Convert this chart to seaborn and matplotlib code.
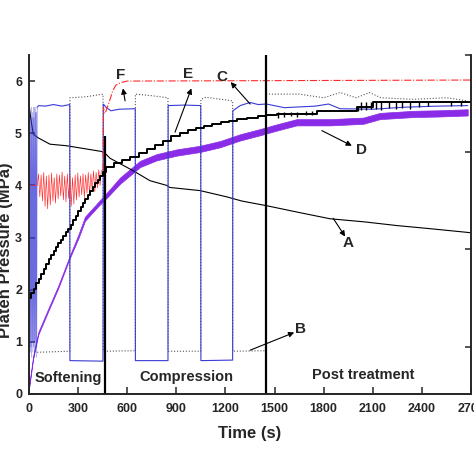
import matplotlib
matplotlib.use("Agg")
import matplotlib.pyplot as plt
import seaborn as sns

# ---- values (time in s, pressure in MPa) ----

# A: thin black, slowly decreasing
a_t = [0, 10, 26, 57, 128, 230, 444, 470, 495, 637, 739, 841, 860, 1045, 1208, 1300,
       1452, 1650, 1839, 2050, 2246, 2450, 2674, 2700]
a_v = [5.56, 5.3, 4.98, 4.91, 4.79, 4.76, 4.65, 4.6, 4.52, 4.28, 4.09, 4.0, 3.96, 3.9,
       3.78, 3.70, 3.61, 3.48, 3.36, 3.3, 3.23, 3.17, 3.10, 3.09]

# B: grey dotted square wave
b_t = [50, 249, 250, 350, 452, 454, 649, 650, 750, 849, 850, 1049, 1050, 1080, 1244,
       1245, 1449, 1450, 1650, 1800, 1900, 2000, 2080, 2150, 2350, 2550, 2680]
b_v = [0.80, 0.82, 5.68, 5.70, 5.75, 0.82, 0.83, 5.75, 5.72, 5.68, 0.82, 0.82, 5.65,
       5.69, 5.62, 0.82, 0.83, 5.75, 5.75, 5.68, 5.78, 5.68, 5.78, 5.68, 5.65, 5.68, 5.62]

# C: blue, fast oscillation then square wave
c_osc_t = [0, 2, 4, 6, 8, 10, 12, 14, 16, 18, 20, 22, 24, 26, 28, 30, 32, 34, 36, 38,
           40, 42, 44, 46, 48, 50]
c_osc_v = [0.0, 5.2, 0.7, 5.4, 0.8, 5.3, 0.9, 5.5, 0.7, 5.3, 1.0, 5.4, 0.8, 5.5, 0.9,
           5.3, 0.7, 5.5, 1.0, 5.4, 0.8, 5.5, 0.7, 5.4, 0.9, 5.5]
c_t = [50, 60, 100, 150, 200, 249, 250, 452, 454, 470, 500, 550, 649, 650, 849, 850,
       950, 1049, 1050, 1244, 1245, 1290, 1350, 1400, 1450, 1560, 1750, 1830, 1900,
       2100, 2300, 2500, 2680]
c_v = [5.5, 5.53, 5.52, 5.55, 5.52, 5.55, 0.64, 0.63, 5.56, 5.5, 5.43, 5.46, 5.47,
       0.64, 0.64, 5.53, 5.54, 5.53, 0.64, 0.65, 5.43, 5.53, 5.59, 5.55, 5.56, 5.49,
       5.52, 5.56, 5.47, 5.46, 5.5, 5.52, 5.53]

# D: purple, noisy band (lower / upper envelope)
d_t = [0, 26, 57, 118, 179, 250, 301, 342, 423, 484, 556, 678, 780, 902, 1045, 1167,
       1289, 1411, 1513, 1635, 1839, 2042, 2144, 2348, 2500, 2680]
d_lo = [0.10, 0.69, 1.14, 1.59, 2.03, 2.61, 2.98, 3.32, 3.60, 3.79, 4.03, 4.35, 4.48,
        4.57, 4.64, 4.73, 4.86, 4.96, 5.05, 5.15, 5.15, 5.18, 5.27, 5.31, 5.32, 5.34]
d_hi = [0.15, 0.74, 1.19, 1.64, 2.08, 2.66, 3.05, 3.40, 3.68, 3.89, 4.15, 4.47, 4.60,
        4.69, 4.76, 4.85, 4.98, 5.08, 5.17, 5.27, 5.27, 5.30, 5.39, 5.43, 5.44, 5.46]

# E: thick black staircase
e_t = [0, 15, 30, 45, 60, 75, 90, 105, 120, 135, 150, 165, 180, 195, 210, 225, 240,
       255, 270, 285, 300, 315, 330, 345, 360, 375, 390, 405, 420, 435, 450, 470, 520,
       570, 620, 670, 720, 770, 820, 870, 920, 970, 1020, 1070, 1120, 1170, 1220, 1270,
       1330, 1400, 1450, 1515, 1760, 2004, 2100, 2700]
e_v = [1.85, 1.93, 2.02, 2.12, 2.21, 2.31, 2.40, 2.50, 2.58, 2.66, 2.74, 2.82, 2.89,
       2.96, 3.03, 3.10, 3.17, 3.25, 3.33, 3.42, 3.50, 3.58, 3.66, 3.74, 3.82, 3.90,
       3.97, 4.04, 4.11, 4.18, 4.25, 4.35, 4.42, 4.48, 4.55, 4.63, 4.70, 4.78, 4.86,
       4.95, 5.01, 5.06, 5.10, 5.14, 5.18, 5.21, 5.24, 5.27, 5.30, 5.33, 5.34, 5.37,
       5.42, 5.50, 5.59, 5.59]
# short downward spikes on E
e_spk_t = [1520, 1560, 1600, 1640, 1690, 1730, 2010, 2030, 2060, 2090, 2120, 2150,
           2200, 2240, 2280, 2330, 2380, 2440, 2580, 2640]
e_spk_lo = [5.30, 5.32, 5.33, 5.31, 5.34, 5.35, 5.42, 5.45, 5.44, 5.46, 5.47, 5.45,
            5.48, 5.46, 5.49, 5.47, 5.50, 5.52, 5.52, 5.53]
e_spk_hi = [5.40, 5.40, 5.40, 5.40, 5.42, 5.42, 5.50, 5.59, 5.59, 5.59, 5.59, 5.59,
            5.59, 5.59, 5.59, 5.59, 5.59, 5.59, 5.59, 5.59]

# F: red, oscillating then dash-dot plateau
f_soft_t = [0, 3, 50, 58, 66, 74, 82, 90, 98, 106, 114, 122, 130, 138, 146, 154, 162,
            170, 178, 186, 194, 202, 210, 218, 226, 234, 242, 250, 258, 266, 274, 282,
            290, 298, 306, 314, 322, 330, 338, 346, 354, 362, 370, 378, 386, 394, 402,
            410, 418, 426, 434, 442, 450]
f_soft_v = [0.0, 4.0, 4.0, 4.22, 3.78, 4.2, 3.7, 4.25, 3.6, 4.18, 3.55, 4.2, 3.62,
            4.24, 3.7, 4.15, 3.66, 4.22, 3.74, 4.2, 3.8, 4.26, 3.72, 4.18, 3.68, 4.22,
            3.75, 4.2, 3.6, 4.15, 3.64, 4.2, 3.72, 4.24, 3.78, 4.18, 3.82, 4.22, 3.76,
            4.2, 3.85, 4.25, 3.82, 4.22, 3.9, 4.28, 3.88, 4.25, 3.95, 4.3, 4.0, 4.28, 4.3]
f_post_t = [452, 455, 460, 470, 490, 510, 530, 560, 600, 2700]
f_post_v = [4.3, 5.5, 5.38, 5.42, 5.6, 5.8, 5.92, 5.97, 6.0, 6.02]

# phase dividers
div_t = [462, 1450]
div_top = [4.95, 6.5]

phase_labels = ["Softening", "Compression", "Post treatment"]
phase_x = [240, 964, 2043]
phase_y = [0.30, 0.33, 0.36]

# curve letters: label position, arrow tail on the curve, arrow head next to the label
letters = ["A", "B", "C", "D", "E", "F"]
letter_xy = [(1950, 2.89), (1660, 1.24), (1178, 6.07), (2033, 4.67), (972, 6.14), (562, 6.12)]
arrow_from = [(1858, 3.37), (1351, 0.84), (1351, 5.56), (1789, 5.05), (892, 5.02), (587, 5.62)]
arrow_to = [(1931, 3.02), (1620, 1.18), (1232, 5.98), (1972, 4.76), (992, 5.86), (574, 5.86)]

# ---- styling ----
sns.set_theme(style="ticks")
plt.rcParams["font.family"] = ["Liberation Sans", "DejaVu Sans"]
plt.rcParams["axes.grid"] = False

BLUE = "#3a3ad6"
PURPLE = "#8a2be8"
RED = "#ff2a2a"
GREY = "#555555"

fig = plt.figure(figsize=(4.74, 4.74), dpi=100)
ax = fig.add_axes([29 / 474, 80 / 474, 442 / 474, 339 / 474])

sns.lineplot(x=a_t, y=a_v, ax=ax, color="black", lw=0.8, estimator=None, sort=False)
sns.lineplot(x=b_t, y=b_v, ax=ax, color=GREY, lw=0.8, ls=":", estimator=None, sort=False)
sns.lineplot(x=c_osc_t, y=c_osc_v, ax=ax, color=BLUE, lw=0.35, alpha=0.75,
             estimator=None, sort=False)
sns.lineplot(x=c_t, y=c_v, ax=ax, color=BLUE, lw=0.8, estimator=None, sort=False)
sns.lineplot(x=f_soft_t, y=f_soft_v, ax=ax, color=RED, lw=0.45, estimator=None, sort=False)
sns.lineplot(x=f_post_t, y=f_post_v, ax=ax, color=RED, lw=0.8, ls="-.",
             estimator=None, sort=False)

ax.fill_between(d_t, d_lo, d_hi, color=PURPLE, lw=0.5, edgecolor=PURPLE)

sns.lineplot(x=e_t, y=e_v, ax=ax, color="black", lw=1.4, drawstyle="steps-post",
             estimator=None, sort=False)
ax.vlines(e_spk_t, e_spk_lo, e_spk_hi, color="black", lw=1.0)

ax.vlines(div_t, 0, div_top, color="black", lw=1.6, zorder=5)

for txt, x, y in zip(phase_labels, phase_x, phase_y):
    ax.text(x, y, txt, ha="center", va="center", fontsize=10.5, fontweight="bold")

for lab, pos, tail, head in zip(letters, letter_xy, arrow_from, arrow_to):
    ax.annotate("", xy=head, xytext=tail,
                arrowprops=dict(arrowstyle="-|>", color="black", lw=0.8,
                                mutation_scale=8, shrinkA=0, shrinkB=0))
    ax.text(pos[0], pos[1], lab, ha="center", va="center", fontsize=11,
            fontweight="bold")

ax.set_xlim(0, 2700)
ax.set_ylim(0, 6.5)
ax.set_xticks(range(0, 2701, 300))
ax.set_yticks(range(0, 7))
ax.set_xlabel("Time (s)", fontsize=12, fontweight="bold")
ax.set_ylabel("Platen Pressure (MPa)", fontsize=12, fontweight="bold")
ax.xaxis.set_label_coords(0.5, -0.094)
ax.yaxis.set_label_coords(-0.036, 0.425)

for side in ["left", "bottom", "right"]:
    ax.spines[side].set_linewidth(1.2)
ax.spines["top"].set_visible(False)
ax.spines["right"].set_visible(True)

ax.tick_params(axis="x", direction="in", length=5, width=1.1, labelsize=9, pad=6.5)
ax.tick_params(axis="y", direction="in", length=4.5, width=1.1, labelsize=9, pad=5)
for lbl in ax.get_xticklabels() + ax.get_yticklabels():
    lbl.set_fontweight("bold")

# right-hand axis: ticks only, its labels fall outside the crop
ax2 = ax.twinx()
ax2.set_ylim(0.512, 4.0)
ax2.set_yticks([1, 2, 3, 4])
ax2.set_yticklabels([])
ax2.tick_params(axis="y", direction="in", length=4.5, width=1.1)
ax2.spines["top"].set_visible(False)
ax2.spines["right"].set_linewidth(1.2)
ax2.grid(False)

fig.savefig("out.png", dpi=100)
